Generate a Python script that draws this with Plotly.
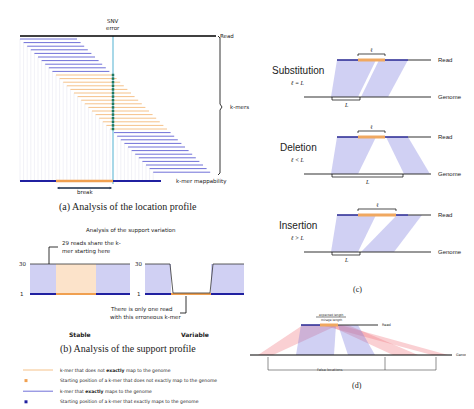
import plotly.graph_objects as go

W, H = 474, 409
BLUE = "#3030b0"; LBLUE = "rgba(120,120,220,0.35)"; ORANGE = "#f0a050"; LOR = "rgba(250,200,150,0.5)"
RED = "rgba(240,120,130,0.35)"

# panel (a) geometry (diagram units)
read_y = 28; kmer_len = 57; n_kmers = 38; kmer_step = 3.6; snv_x = 105; x0 = 12; map_y = 173
kmer_starts = [x0 + i * kmer_step for i in range(n_kmers)]

# panel (b) support profile values
stable_x = [22, 48, 88, 122]
stable_support = [30, 30, 30]
variable_x = [137, 163, 203, 236]
variable_support = [30, 1, 30]

# panel (c) cases: name, condition, read_y, orange segment, L bracket, bands (top, bottom)
cases = [
    ("Substitution", "ℓ = L", 52, (350, 377), (324, 352),
     [((329, 368), (323, 350)), ((371, 400), (353, 380))]),
    ("Deletion", "ℓ < L", 129, (350, 377), (324, 395),
     [((329, 368), (323, 350)), ((378, 400), (396, 422))]),
    ("Insertion", "ℓ > L", 207, (350, 388), (324, 352),
     [((329, 368), (323, 350)), ((389, 414), (353, 386))]),
]

fig = go.Figure()
def line(xs, ys, color="black", width=1, dash=None):
    fig.add_trace(go.Scatter(x=xs, y=ys, mode="lines", line=dict(color=color, width=width, dash=dash), hoverinfo="skip"))
def poly(xs, ys, fill):
    fig.add_trace(go.Scatter(x=xs, y=ys, mode="lines", fill="toself", fillcolor=fill, line=dict(width=0), hoverinfo="skip"))
ann = []
def text(x, y, t, size=6, anchor="center", family="DejaVu Sans", color="#222"):
    ann.append(dict(x=x, y=y, text=t, showarrow=False, xanchor=anchor, yanchor="middle",
                    font=dict(size=size, family=family, color=color)))

# ---- (a)
for i, s in enumerate(kmer_starts):
    y = read_y + 3 + i * kmer_step
    line([s, s], [y, map_y], "#e2e2ee", 0.5)
for i, s in enumerate(kmer_starts):
    y = read_y + 3 + i * kmer_step
    col = "#f5c28a" if (s <= snv_x <= s + kmer_len and s >= 48) else "#7070d8"
    line([s, s + kmer_len], [y, y], col, 1)
line([snv_x, snv_x], [read_y, 176], "#a8d8e8", 2)
gs = [read_y + 3 + i * kmer_step for i, s in enumerate(kmer_starts) if 48 <= s <= snv_x]
fig.add_trace(go.Scatter(x=[snv_x] * len(gs), y=gs, mode="markers", marker=dict(color="#207a60", size=2.5, symbol="square"), hoverinfo="skip"))
line([x0, 208], [read_y, read_y], "black", 1.5)
line([x0, 153], [map_y, map_y], "#2020a0", 2)
line([48, snv_x], [map_y, map_y], ORANGE, 2.5)
line([210, 212, 212, 214, 212, 212, 210], [28, 30, 96, 99, 102, 165, 167], "black", 0.8)
line([50, 103], [180, 180], "black", 0.8)
ann.append(dict(x=49, y=180, ax=104, ay=180, xref="x", yref="y", axref="x", ayref="y", showarrow=True, arrowhead=2, arrowsize=0.6, arrowwidth=0.8, text=""))
ann.append(dict(x=104, y=180, ax=49, ay=180, xref="x", yref="y", axref="x", ayref="y", showarrow=True, arrowhead=2, arrowsize=0.6, arrowwidth=0.8, text=""))
text(105, 13, "SNV", 5.5); text(105, 20, "error", 5.5)
text(210, 28, "Read", 5.5, "left"); text(220, 99, "k-mers", 5.5, "left")
text(166, 173, "k-mer mappability", 5.5, "left"); text(77, 184, "break", 5.5)
text(120, 199, "(a) Analysis of the location profile", 10, family="Liberation Serif")

# ---- (b)
top, bot = 256, 286
def ypix(v): return bot - (v - 1) / 29 * (bot - top)
for xs, sup in [(stable_x, stable_support), (variable_x, variable_support)]:
    for j in range(3):
        a, b = xs[j], xs[j + 1]
        yy = ypix(sup[j])
        fc = LOR if (j == 1 and sup[j] == 30) else LBLUE
        if sup[j] > 1:
            poly([a, b, b, a], [yy, yy, bot, bot], fc)
    line([xs[0], xs[-1]], [bot, bot], "#2020a0", 2)
    line([xs[1], xs[2]], [bot, bot], ORANGE, 2)
line(stable_x[::3], [top, top], "#333", 0.8)
line([137, 162, 165, 202, 205, 236], [top, top, bot - 1, bot - 1, top, top], "#333", 0.8)
text(14, top, "30", 5.5); text(14, bot, "1", 5.5); text(130, top, "30", 5.5); text(131, bot, "1", 5.5)
text(123, 222, "Analysis of the support variation", 5.5)
text(52, 235, "29 reads share the k-", 5.5, "left"); text(52, 243, "mer starting here", 5.5, "left")
line([50, 41, 41], [239, 239, 256], "black", 0.8)
text(100, 301, "There is only one read", 5.5, "left"); text(100, 309, "with this erroneous k-mer", 5.5, "left")
line([178, 178, 172], [288, 305, 305], "black", 0.8)
text(72, 326, "<b>Stable</b>", 6); text(187, 326, "<b>Variable</b>", 6)
text(120, 341, "(b) Analysis of the support profile", 10, family="Liberation Serif")

# legend
leg = [("line", "#f5c28a", "k-mer that does not <b>exactly</b> map to the genome"),
       ("dot", ORANGE, "Starting position of a k-mer that does not exactly map to the genome"),
       ("line", "#7070d8", "k-mer that <b>exactly</b> maps to the genome"),
       ("dot", "#2020a0", "Starting position of a k-mer that exactly maps to the genome")]
for k, (kind, col, t) in enumerate(leg):
    y = 362 + k * 10.6
    if kind == "line":
        line([15, 45], [y, y], col, 1)
    else:
        fig.add_trace(go.Scatter(x=[18], y=[y], mode="markers", marker=dict(color=col, size=3, symbol="square"), hoverinfo="skip"))
    text(50, y, t, 4.5, "left")

# ---- (c)
for name, cond, ry, (o0, o1), (L0, L1), bands in cases:
    gy = ry + 37
    for (t0, t1), (b0, b1) in bands:
        poly([t0, t1, b1, b0], [ry, ry, gy, gy], LBLUE)
    line([329, 423], [ry, ry], "#333", 1.2)
    line([329, 400], [ry, ry], "#2020c0", 1.2)
    poly([o0, o1, o1, o0], [ry - 1.5, ry - 1.5, ry + 1.5, ry + 1.5], "#f0a860")
    line([o0, o0, o1, o1], [ry - 4, ry - 6, ry - 6, ry - 4], "black", 0.7)
    text((o0 + o1) / 2, ry - 10, "ℓ", 5.5, family="Liberation Serif")
    line([296, 423], [gy, gy], "#333", 1.2)
    line([L0, L0, L1, L1], [gy, gy + 3, gy + 3, gy], "black", 0.7)
    text((L0 + L1) / 2, gy + 8, "<i>L</i>", 6, family="Liberation Serif")
    text(428, ry, "Read", 6, "left", family="Liberation Sans"); text(428, gy, "Genome", 6, "left", family="Liberation Sans")
    text(290, ry + 10, name, 10, family="Liberation Sans")
    text(290, ry + 23, "<i>" + cond + "</i>", 6, family="Liberation Serif")
text(349, 281, "(c)", 8, family="Liberation Serif")

# ---- (d)
dr, dg = 317, 347
for (t0, t1), (b0, b1) in [((295, 330), (250, 265)), ((313, 332), (424, 440)), ((320, 340), (385, 410))]:
    poly([t0, t1, b1, b0], [dr, dr, dg, dg], RED)
for (t0, t1), (b0, b1) in [((293, 328), (288, 326)), ((330, 350), (340, 367))]:
    poly([t0, t1, b1, b0], [dr, dr, dg, dg], LBLUE)
line([293, 370], [dr, dr], "#333", 1)
line([293, 330], [dr, dr], "#2020c0", 1)
poly([312, 330, 330, 312], [dr - 1.5, dr - 1.5, dr + 1.5, dr + 1.5], "#f0a860")
line([242, 444], [dg, dg], "black", 1)
line([260, 260, 428, 428], [349, 362, 362, 349], "#444", 0.6)
line([377, 377], [349, 362], "#444", 0.6)
text(323, 307, "expected length", 3); text(323, 312, "mirage length", 3)
line([308, 338], [309, 309], "black", 0.5)
text(372, dr, "Read", 3.5, "left"); text(446, dg, "Genome", 3.5, "left")
text(322, 362, "False locations", 3.5, color="#444")
text(349, 377, "(d)", 8, family="Liberation Serif")

fig.update_layout(width=W, height=H, margin=dict(l=0, r=0, t=0, b=0), showlegend=False,
                  plot_bgcolor="white", paper_bgcolor="white", annotations=ann,
                  xaxis=dict(range=[0, W], visible=False, fixedrange=True),
                  yaxis=dict(range=[H, 0], visible=False, fixedrange=True))
fig.write_html("out.html")
